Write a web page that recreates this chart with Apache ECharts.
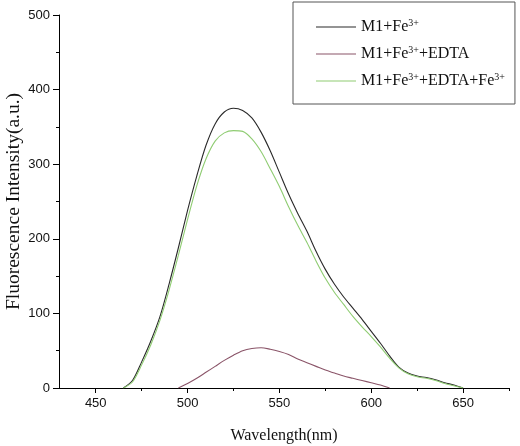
<!DOCTYPE html>
<html>
<head>
<meta charset="utf-8">
<script src="https://cdn.jsdelivr.net/npm/echarts@6/dist/echarts.min.js"></script>
<style>html,body{margin:0;padding:0;background:#fff}#c{width:520px;height:446px}</style>
</head>
<body>
<div id="c"></div>
<script>
var wavelengths = [465,470,475,480,485,490,495,500,505,510,515,520,525,530,535,540,545,550,555,560,565,570,575,580,585,590,595,600,605,610,615,620,625,630,635,640,645,650];
var fe = [0,10,35,63,96,140,188,238,284,325,354,370,375,372,362,343,318,289,260,234,210,183,159,139,122,107,92,76,60,43,28,20,16,14,11,7,4,0];
var feEdta = [null,null,null,null,null,null,0,6,13,21,29,37,44,50,53,54,52,49,45,39,34,29,24,20,16,13,10,7,4,0,null,null,null,null,null,null,null,null];
var feEdtaFe = [0,8,31,58,91,132,178,226,271,307,331,342,345,344,334,317,294,270,243,218,195,170,147,128,112,96,82,69,55,40,27,19,15,13,10,6,3,0];
var xMajorTicks = [450,500,550,600,650];
var xMinorTicks = [475,525,575,625,675];
var seriesNames = ['M1+Fe3+','M1+Fe3++EDTA','M1+Fe3++EDTA+Fe3+'];

function pair(vals){ return wavelengths.map(function(w,i){ return vals[i]==null ? null : [w, vals[i]]; }).filter(function(p){return p;}); }

var chart = echarts.init(document.getElementById('c'));
var serif = 'Liberation Serif, Times New Roman, serif';
var sans = 'Liberation Sans, Arial, sans-serif';
chart.setOption({
  animation: false,
  backgroundColor: '#fff',
  grid: {left: 59, right: 11, top: 15, bottom: 58, containLabel: false, outerBoundsMode: 'none'},
  legend: {
    orient: 'vertical', left: 293, top: 2,
    padding: [16, 10, 11, 23],
    icon: 'rect',
    itemWidth: 40, itemHeight: 1, itemGap: 6,
    borderColor: '#555', borderWidth: 1,
    data: seriesNames,
    formatter: function(n){
      if (n === seriesNames[0]) return '{t|M1+Fe}{s|3+}';
      if (n === seriesNames[1]) return '{t|M1+Fe}{s|3+}{t|+EDTA}';
      return '{t|M1+Fe}{s|3+}{t|+EDTA+Fe}{s|3+}';
    },
    textStyle: {
      rich: {
        t: {fontFamily: serif, fontSize: 16, color: '#111', lineHeight: 18},
        s: {fontFamily: serif, fontSize: 10, color: '#111', verticalAlign: 'top', lineHeight: 18, padding: [0,0,11,0]}
      }
    }
  },
  xAxis: [{
    type: 'value', min: 430, max: 675,
    name: 'Wavelength(nm)', nameLocation: 'middle', nameGap: 40, nameMoveOverlap: false,
    nameTextStyle: {fontFamily: serif, fontSize: 16, color: '#111'},
    axisLine: {lineStyle: {color: '#000', width: 1}},
    axisTick: {show: true, customValues: xMajorTicks, length: 5, lineStyle: {color: '#000'}},
    axisLabel: {customValues: xMajorTicks, fontFamily: sans, fontSize: 13, color: '#111', margin: 9},
    splitLine: {show: false}
  },{
    type: 'value', min: 430, max: 675, position: 'bottom',
    axisLine: {show: false},
    axisTick: {show: true, customValues: xMinorTicks, length: 3, lineStyle: {color: '#000'}},
    axisLabel: {show: false},
    splitLine: {show: false}
  }],
  yAxis: {
    type: 'value', min: 0, max: 500, interval: 100,
    name: 'Fluorescence Intensity(a.u.)', nameLocation: 'middle', nameGap: 35, nameMoveOverlap: false,
    nameTextStyle: {fontFamily: serif, fontSize: 19.5, color: '#111'},
    axisLine: {show: true, lineStyle: {color: '#000', width: 1}},
    axisTick: {show: true, length: 6, lineStyle: {color: '#000'}},
    minorTick: {show: true, splitNumber: 2, length: 3, lineStyle: {color: '#000'}},
    axisLabel: {fontFamily: sans, fontSize: 13, color: '#111', margin: 9},
    splitLine: {show: false}
  },
  series: [
    {name: seriesNames[0], type: 'line', data: pair(fe), symbol: 'none', smooth: 0.3, lineStyle: {color: '#2a2a2a', width: 1.1}, itemStyle: {color: '#2a2a2a'}},
    {name: seriesNames[1], type: 'line', data: pair(feEdta), symbol: 'none', smooth: 0.3, lineStyle: {color: '#8a5468', width: 1.1}, itemStyle: {color: '#8a5468'}},
    {name: seriesNames[2], type: 'line', data: pair(feEdtaFe), symbol: 'none', smooth: 0.3, lineStyle: {color: '#8fcc72', width: 1.1}, itemStyle: {color: '#8fcc72'}}
  ]
});
</script>
</body>
</html>
